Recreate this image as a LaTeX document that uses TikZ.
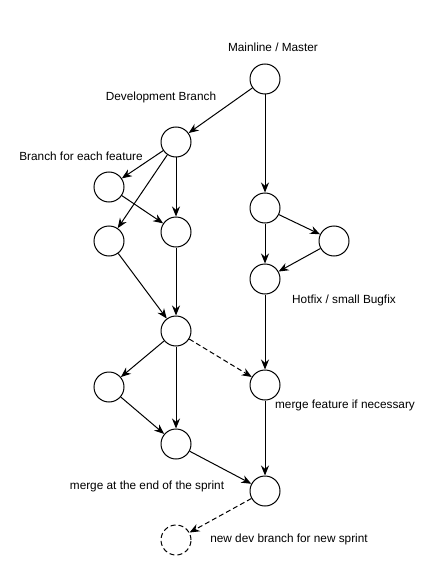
\documentclass[tikz,border=0pt]{standalone}
\usepackage{fontspec}
\setmainfont{Liberation Sans}
\usetikzlibrary{arrows.meta}
\begin{document}
\begin{tikzpicture}[x=1pt,y=-1pt,
  commit/.style={circle,draw,line width=1pt,minimum size=30pt,inner sep=0pt},
  newcommit/.style={commit,dash pattern=on 5pt off 3pt},
  lbl/.style={font=\fontsize{11.8}{13}\selectfont,inner sep=0pt},
  flow/.style={line width=1pt,-{Stealth[length=10pt,width=8pt]}},
  maybe/.style={flow,dash pattern=on 5pt off 3pt}]
\useasboundingbox (0,0) rectangle (438,572);
\node[commit] (M) at (265,79) {};
\node[commit] (D) at (176,142) {};
\node[commit] (F1) at (109,187) {};
\node[commit] (F2) at (109,241) {};
\node[commit] (F3) at (176,232) {};
\node[commit] (H1) at (265,208) {};
\node[commit] (H2) at (334,241) {};
\node[commit] (H3) at (265,279) {};
\node[commit] (D2) at (176,331) {};
\node[commit] (H4) at (265,385) {};
\node[commit] (F4) at (109,387) {};
\node[commit] (F5) at (176,444) {};
\node[commit] (M2) at (265,491) {};
\node[newcommit] (N) at (176,540) {};

\node[lbl] (lM) at (273,47) {Mainline / Master};
\node[lbl] (lD) at (161,97) {Development Branch};
\node[lbl] (lF) at (81,156) {Branch for each feature};
\node[lbl] (lH) at (344,300) {Hotfix / small Bugfix};
\node[lbl] (lMF) at (345,405) {merge feature if necessary};
\node[lbl] (lME) at (147,486) {merge at the end of the sprint};
\node[lbl] (lN) at (289,539) {new dev branch for new sprint};

\draw[flow] (M) -- (D);
\draw[flow] (M) -- (H1);
\draw[flow] (D) -- (F1);
\draw[flow] (D) -- (F2);
\draw[flow] (D) -- (F3);
\draw[flow] (F1) -- (F3);
\draw[flow] (F2) -- (D2);
\draw[flow] (F3) -- (D2);
\draw[flow] (H1) -- (H2);
\draw[flow] (H1) -- (H3);
\draw[flow] (H2) -- (H3);
\draw[flow] (H3) -- (H4);
\draw[maybe] (D2) -- (H4);
\draw[flow] (D2) -- (F4);
\draw[flow] (D2) -- (F5);
\draw[flow] (F4) -- (F5);
\draw[flow] (F5) -- (M2);
\draw[flow] (H4) -- (M2);
\draw[maybe] (M2) -- (N);
\end{tikzpicture}
\end{document}
